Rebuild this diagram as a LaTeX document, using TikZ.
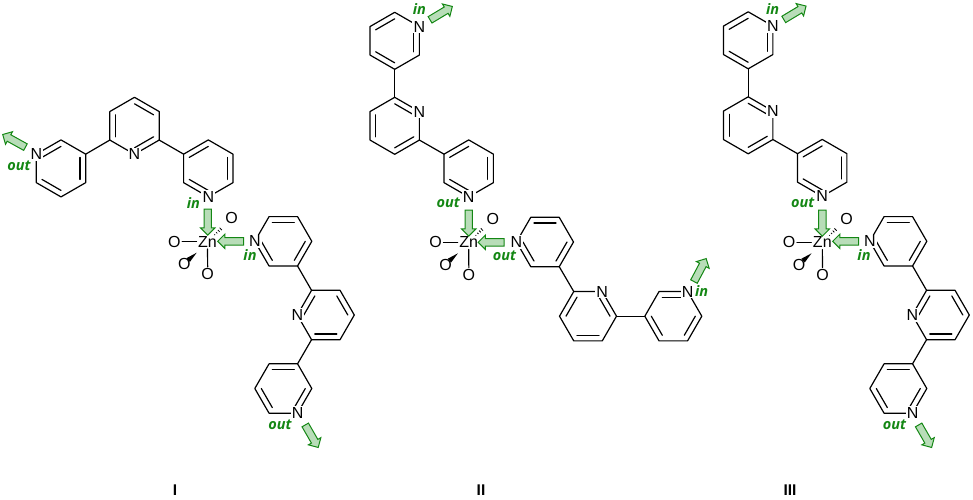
\documentclass[tikz,border=0pt]{standalone}
\usepackage{fontspec}
\setmainfont{Liberation Sans}
\newfontfamily\tagfont{Open Sans}
\usetikzlibrary{shapes.arrows}
\definecolor{flowgreen}{RGB}{20,135,20}
\definecolor{flowfill}{RGB}{184,221,184}
\tikzset{
	bondline/.style={
		line width=1.2pt,
		line join=round,
		line cap=round
	},
	atom/.style={
		fill=white,
		inner sep=1.2pt,
		font=\fontsize{16}{16}\selectfont
	},
	ligand/.style={
		inner sep=1.5pt,
		font=\fontsize{16}{16}\selectfont
	},
	flowtag/.style={
		inner sep=0pt,
		text=flowgreen,
		font=\fontsize{14.5}{14.5}\selectfont\tagfont\bfseries\itshape
	},
	flowarrow/.style={
		single arrow,
		draw=flowgreen,
		fill=flowfill,
		line width=1pt,
		inner xsep=0pt,
		inner ysep=3.2pt,
		minimum height=26pt,
		single arrow head extend=3.5pt
	},
	numlabel/.style={
		font=\fontsize{15.5}{15.5}\selectfont\bfseries
	},
	pics/pyring/.style n args={3}{code={
		\foreach \i in {1,...,6} {
			\coordinate (v\i) at ({#1+60*(\i-1)}:28.5);
			\coordinate (w\i) at ({#1+60*(\i-1)}:22);
		}
		\draw[bondline] (v1) -- (v2) -- (v3) -- (v4) -- (v5) -- (v6) -- cycle;
		\foreach \i in {#3} {
			\pgfmathtruncatemacro\j{mod(\i,6)+1}
			\draw[bondline] (w\i) -- (w\j);
		}
		\node[atom] (n) at (v#2) {N};
	}},
	zncore/.pic = {
		\node[ligand] (zn) at (0,0) {Zn};
		\node[ligand] (ol) at (-33.2,0) {O};
		\node[ligand] (ob) at (0.2,32.6) {O};
		\node[ligand] (oh) at (24.2,-23.4) {O};
		\node[ligand] (ow) at (-23.2,22.6) {O};
		\draw[bondline] (zn) -- (ol);
		\draw[bondline] (zn) -- (ob);
		\fill (-10.8,11) -- (-17.6,20.2) -- (-20.9,16.4) -- cycle;
		\begin{scope}[shift={(zn)},rotate=44]
			\foreach \d/\h in {10/0.4,12.8/0.8,15.6/1.2,18.4/1.6}
				\draw[line width=0.8pt] (\d,-\h) -- (\d,\h);
		\end{scope}
	},
	armlow/.pic = {
		\pic (d) at (0,0) {pyring={60}{3}{2,4,6}};
		\pic (e) at (42.5,73.7) {pyring={60}{3}{1,3,5}};
		\pic (f) at (0,147.2) {pyring={60}{1}{2,4,6}};
		\draw[bondline] (dv1) -- (ev4);
		\draw[bondline] (ev2) -- (fv5);
	},
	armtop/.pic = {
		\pic (a) at (0,0) {pyring={30}{6}{2,4,6}};
		\pic (b) at (0,85) {pyring={30}{6}{1,3,5}};
		\pic (c) at (74,127.6) {pyring={30}{2}{2,4,6}};
		\draw[bondline] (av2) -- (bv5);
		\draw[bondline] (bv1) -- (cv4);
	}
}
\begin{document}
\begin{tikzpicture}[x=1pt,y=-1pt]
	\useasboundingbox (0,0) rectangle (973,499);

	% structure I
	\pic (la) at (61,168.4) {pyring={30}{4}{2,4,6}};
	\pic (lb) at (134.5,125.8) {pyring={30}{2}{1,3,5}};
	\pic (lc) at (208.3,168.4) {pyring={30}{2}{2,4,6}};
	\draw[bondline] (lav6) -- (lbv3);
	\draw[bondline] (lbv1) -- (lcv4);
	\pic (zi) at (207.5,241.7) {zncore};
	\pic (li) at (283.3,241.3) {armlow};
	\node[flowarrow,rotate=151] (ia1) at (15.7,141.7) {};
	\node[flowarrow,rotate=-90] (ia2) at (207.7,220.3) {};
	\node[flowarrow,rotate=180] (ia3) at (232.5,241.3) {};
	\node[flowarrow,rotate=-60] (ia4) at (310.8,434.6) {};
	\node[flowtag] (it1) at (19,165.7) {out};
	\node[flowtag] (it2) at (193.3,202.7) {in};
	\node[flowtag] (it3) at (250,255) {in};
	\node[flowtag] (it4) at (280,425) {out};

	% structure II
	\pic (ti) at (394.7,40.8) {armtop};
	\pic (zii) at (468.7,242.3) {zncore};
	\pic (ld) at (545,242) {pyring={60}{3}{2,4,6}};
	\pic (le) at (588,316.2) {pyring={60}{5}{1,3,5}};
	\pic (lf) at (673.3,316.2) {pyring={60}{5}{2,4,6}};
	\draw[bondline] (ldv1) -- (lev4);
	\draw[bondline] (lev6) -- (lfv3);
	\node[flowarrow,rotate=31] (iia1) at (439.6,14.1) {};
	\node[flowarrow,rotate=-90] (iia2) at (468.7,221.3) {};
	\node[flowarrow,rotate=180] (iia3) at (493,242.3) {};
	\node[flowarrow,rotate=62] (iia4) at (699.2,271.7) {};
	\node[flowtag] (iit1) at (419.3,9.3) {in};
	\node[flowtag] (iit2) at (448.3,202.7) {out};
	\node[flowtag] (iit3) at (504.5,256) {out};
	\node[flowtag] (iit4) at (701.7,291) {in};

	% structure III
	\pic (tii) at (748.2,40.3) {armtop};
	\pic (ziii) at (822.3,242.3) {zncore};
	\pic (lii) at (898.3,241.3) {armlow};
	\node[flowarrow,rotate=31] (iiia1) at (793.3,13.7) {};
	\node[flowarrow,rotate=-90] (iiia2) at (822.3,221.3) {};
	\node[flowarrow,rotate=180] (iiia3) at (847.5,241.3) {};
	\node[flowarrow,rotate=-60] (iiia4) at (924.2,434.6) {};
	\node[flowtag] (iiit1) at (772.7,9.3) {in};
	\node[flowtag] (iiit2) at (802.7,202.7) {out};
	\node[flowtag] (iiit3) at (864,255) {in};
	\node[flowtag] (iiit4) at (894.5,425) {out};

	% numbers
	\node[numlabel] (numi) at (175,490) {I};
	\node[numlabel] (numii) at (481,490) {II};
	\node[numlabel] (numiii) at (790,490) {III};
\end{tikzpicture}
\end{document}
